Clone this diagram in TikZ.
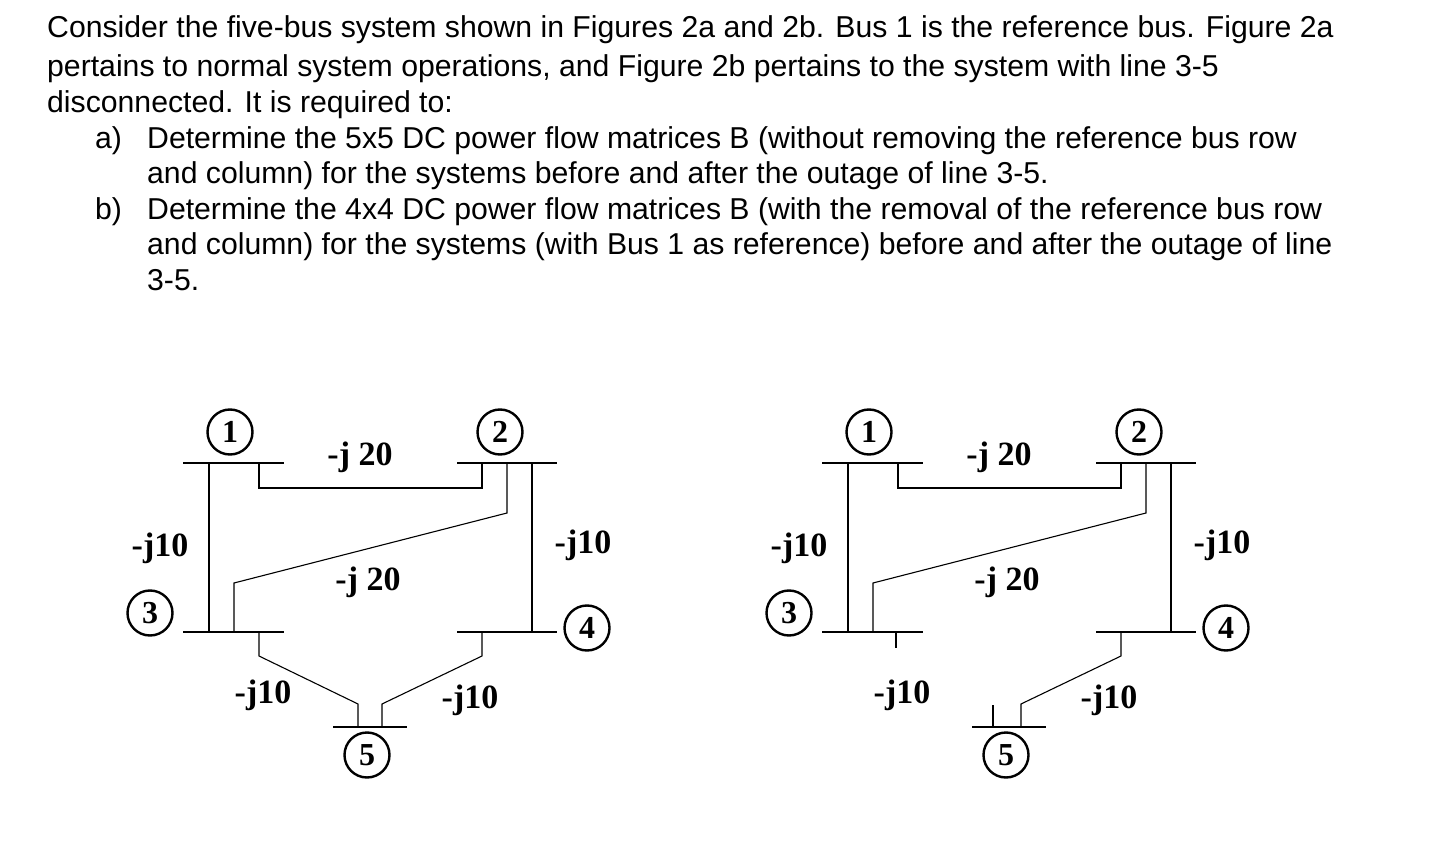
\documentclass[tikz,border=0pt]{standalone}
\usepackage{fontspec}
\setmainfont{Liberation Sans}
\newfontfamily\figfont{Liberation Serif}
\begin{document}
\begin{tikzpicture}[x=1pt,y=-1pt,
  txt/.style={anchor=base west,inner sep=0pt,font=\fontsize{30.2}{34}\selectfont},
  bar/.style={line width=2.2pt},
  ln/.style={line width=1.1pt},
  lbl/.style={font=\figfont\bfseries\fontsize{34}{36}\selectfont,inner sep=0pt},
  busnum/.style={circle,draw,line width=2.4pt,minimum size=45pt,inner sep=0pt,font=\figfont\bfseries\fontsize{32}{34}\selectfont}]
\useasboundingbox (0,0) rectangle (1438,850);
\node[txt] (t1) at (47,38) {Consider the five-bus system shown in Figures 2a and 2b. Bus 1 is the reference bus. Figure 2a};
\node[txt] (t2) at (47,77) {pertains to normal system operations, and Figure 2b pertains to the system with line 3-5};
\node[txt] (t3) at (47,113) {disconnected. It is required to:};
\node[txt] (t4a) at (95,149) {a)};
\node[txt] (t4) at (147,149) {Determine the 5x5 DC power flow matrices B (without removing the reference bus row};
\node[txt] (t5) at (147,184) {and column) for the systems before and after the outage of line 3-5.};
\node[txt] (t6a) at (95,220) {b)};
\node[txt] (t6) at (147,220) {Determine the 4x4 DC power flow matrices B (with the removal of the reference bus row};
\node[txt] (t7) at (147,255) {and column) for the systems (with Bus 1 as reference) before and after the outage of line};
\node[txt] (t8) at (147,291) {3-5.};
\foreach \dx/\s in {0/a,639/b}{
\begin{scope}[xshift=\dx]
 \coordinate (b1w\s) at (183,463); \coordinate (b1e\s) at (284,463);
 \coordinate (b2w\s) at (457,463); \coordinate (b2e\s) at (557,463);
 \coordinate (b3w\s) at (183,632); \coordinate (b3e\s) at (284,632);
 \coordinate (b4w\s) at (457,632); \coordinate (b4e\s) at (557,632);
 \coordinate (b5w\s) at (333,727); \coordinate (b5e\s) at (407,727);
 \draw[bar] (b1w\s)--(b1e\s) (b2w\s)--(b2e\s) (b3w\s)--(b3e\s) (b4w\s)--(b4e\s) (b5w\s)--(b5e\s);
 \draw[ln] (209,463)--(209,632);
 \draw[ln] (259,463)--(259,488)--(482,488)--(482,463);
 \draw[ln] (507,463)--(507,513)--(234,583)--(234,632);
 \draw[ln] (532,463)--(532,632);
 \draw[ln] (482,632)--(482,656)--(382,704)--(382,727);
 \node[busnum] (n1\s) at (230,432) {1};
 \node[busnum] (n2\s) at (500,432) {2};
 \node[busnum] (n3\s) at (150,613) {3};
 \node[busnum] (n4\s) at (587,628) {4};
 \node[busnum] (n5\s) at (367,755) {5};
 \node[lbl] (l12\s) at (360,457) {-j 20};
 \node[lbl] (l13\s) at (160,548) {-j10};
 \node[lbl] (l24\s) at (583,545) {-j10};
 \node[lbl] (l23\s) at (368,582) {-j 20};
 \node[lbl] (l35\s) at (263,695) {-j10};
 \node[lbl] (l45\s) at (470,700) {-j10};
\end{scope}}
\draw[ln] (259,632)--(259,656)--(358,704)--(358,727);
\draw[ln] (896,632)--(896,648);
\draw[ln] (993,705)--(993,727);
\end{tikzpicture}
\end{document}
